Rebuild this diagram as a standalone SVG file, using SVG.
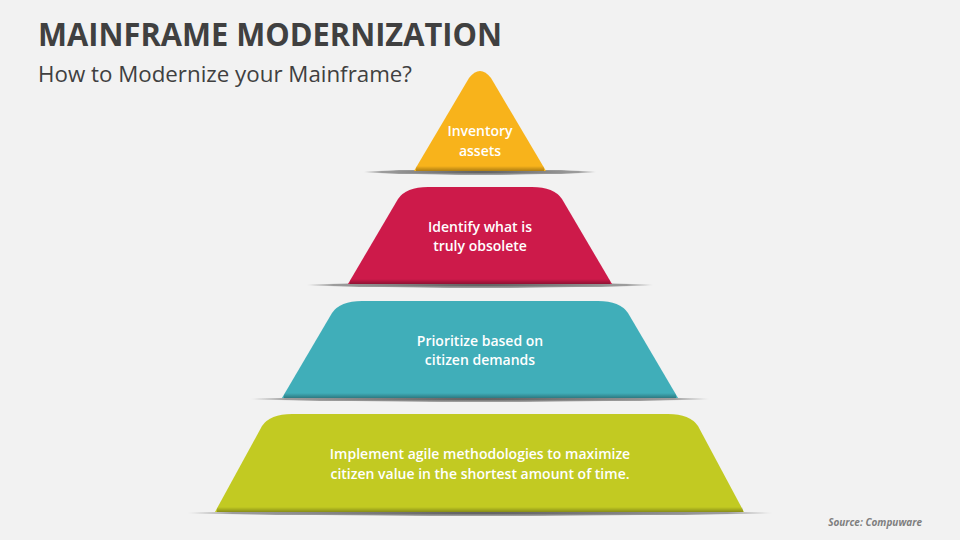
<svg xmlns="http://www.w3.org/2000/svg" width="960" height="540" viewBox="0 0 960 540">
<style>
.t{font-family:"Open Sans","Liberation Sans",sans-serif;fill:#fff;font-size:14px;font-weight:600;text-anchor:middle}
.title{font-family:"Open Sans","Liberation Sans",sans-serif;font-weight:bold;font-size:32px;fill:#404040}
.sub{font-family:"Open Sans","Liberation Sans",sans-serif;font-size:21px;fill:#404040}
</style>
<defs>
<radialGradient id="sh" cx="0.5" cy="0.5" r="0.5">
<stop offset="0" stop-color="#555"/><stop offset="0.85" stop-color="#888" stop-opacity="0.8"/><stop offset="1" stop-color="#aaa" stop-opacity="0"/>
</radialGradient>
<linearGradient id="bd" x1="0" y1="0" x2="0" y2="1">
<stop offset="0" stop-color="#000" stop-opacity="0"/><stop offset="1" stop-color="#000" stop-opacity="0.3"/>
</linearGradient>
</defs>
<rect width="960" height="540" fill="#f2f2f2"/>
<text class="title" x="38" y="46" textLength="464" lengthAdjust="spacingAndGlyphs">MAINFRAME MODERNIZATION</text>
<text class="sub" x="38" y="82" textLength="374" lengthAdjust="spacingAndGlyphs">How to Modernize your Mainframe?</text>
<g id="shadows">
<ellipse cx="480" cy="172" rx="118" ry="3" fill="url(#sh)"/>
<ellipse cx="480" cy="285" rx="176" ry="3" fill="url(#sh)"/>
<ellipse cx="480" cy="399" rx="233" ry="3" fill="url(#sh)"/>
<ellipse cx="480" cy="513" rx="297" ry="3" fill="url(#sh)"/>
</g>
<g id="tier1">
<path d="M414,171 L469,78 Q480,64 491,78 L546,171 Z" fill="#f8b31b"/>
<rect x="416" y="166" width="128" height="5" fill="url(#bd)"/>
<text class="t" x="480" y="136">Inventory</text><text class="t" x="480" y="156">assets</text>
</g>
<g id="tier2">
<path d="M348,284 L398,199 Q406,187 428,187 L532,187 Q554,187 562,199 L612,284 Z" fill="#cd1a4a"/>
<rect x="350" y="279" width="260" height="5" fill="url(#bd)"/>
<text class="t" x="480" y="232">Identify what is</text><text class="t" x="480" y="251">truly obsolete</text>
</g>
<g id="tier3">
<path d="M282,398 L332,313 Q340,301 362,301 L598,301 Q620,301 628,313 L678,398 Z" fill="#40aeb9"/>
<rect x="284" y="393" width="392" height="5" fill="url(#bd)"/>
<text class="t" x="480" y="346">Prioritize based on</text><text class="t" x="480" y="365">citizen demands</text>
</g>
<g id="tier4">
<path d="M215,512 L262,426 Q270,414 292,414 L668,414 Q690,414 698,426 L744,512 Z" fill="#c2ca22"/>
<rect x="217" y="507" width="526" height="5" fill="url(#bd)"/>
<text class="t" x="480" y="459">Implement agile methodologies to maximize</text><text class="t" x="480" y="479">citizen value in the shortest amount of time.</text>
</g>
<g id="connectors"/>
<text x="922" y="526" text-anchor="end" font-family="Open Sans, Liberation Sans, sans-serif" font-size="10" font-weight="bold" font-style="italic" fill="#7f7f7f">Source: Compuware</text>
</svg>
